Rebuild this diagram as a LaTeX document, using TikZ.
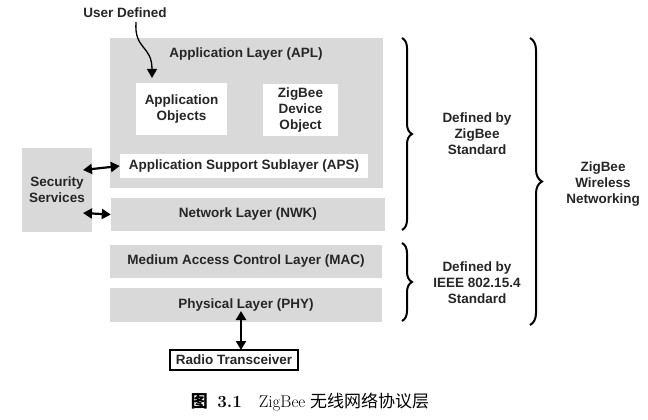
\documentclass[tikz,border=0pt]{standalone}
\usepackage{fontspec}
\setmainfont{Liberation Sans}
\newfontfamily\capserif{Latin Modern Roman}
\newfontfamily\cjk{Noto Sans CJK SC}
\usetikzlibrary{decorations.pathreplacing,arrows.meta}
\begin{document}
\begin{tikzpicture}[x=1pt,y=-1pt,
  lay/.style={fill=gray!30,draw=none},
  wb/.style={fill=white,draw=none},
  t/.style={font=\fontsize{13.5}{16}\selectfont\bfseries,align=center,text=black!85},
  arr/.style={-{Triangle[length=9pt,width=10pt]},line width=2pt},
  darr/.style={{Triangle[length=9pt,width=10pt]}-{Triangle[length=9pt,width=10pt]},line width=2.2pt},
  br/.style={decorate,decoration={brace,amplitude=10pt},line width=2pt}]
\useasboundingbox (0,0) rectangle (648,420);
\fill[lay] (110,38) rectangle (383,188);
\node[t] (apl) at (246,54) {Application Layer (APL)};
\fill[wb] (136,83) rectangle (227,135);
\node[t] (ao) at (181.5,109) {Application\\Objects};
\fill[wb] (263,84) rectangle (338,136);
\node[t] (zdo) at (300.5,110) {ZigBee\\Device\\Object};
\node[wb,t,minimum width=248pt,minimum height=24pt,inner sep=0pt] (aps) at (244,166) {Application Support Sublayer (APS)};
\node[lay,t,minimum width=70pt,minimum height=84pt,inner sep=0pt] (sec) at (57,190) {Security\\Services};
\node[lay,t,minimum width=274pt,minimum height=33pt,inner sep=0pt] (nwk) at (248,214.5) {Network Layer (NWK)};
\node[lay,t,minimum width=272pt,minimum height=33pt,inner sep=0pt] (mac) at (246,261.5) {Medium Access Control Layer (MAC)};
\node[lay,t,minimum width=272pt,minimum height=34pt,inner sep=0pt] (phy) at (246,305) {Physical Layer (PHY)};
\node[t,draw=black,line width=1.8pt,inner sep=2pt,minimum width=128pt,minimum height=20pt] (rt) at (234,360) {Radio Transceiver};
\node[t] (ud) at (125,13) {User Defined};
\coordinate (ph) at (241,311);
\coordinate (rtt) at (241,350);
\draw[darr] (ph) -- (rtt);
\draw[darr] (83,170) -- (aps.west);
\draw[darr] (83,213) -- (nwk.west);
\draw[arr,line width=1.3pt] (136,22) .. controls (134,50) and (152,45) .. (152,78);
\draw[br] (402,38) -- (402,230);
\node[t] (d1) at (477,134) {Defined by\\ZigBee\\Standard};
\draw[br] (402,243) -- (402,321);
\node[t] (d2) at (477,283) {Defined by\\IEEE 802.15.4\\Standard};
\draw[br,decoration={brace,amplitude=12pt}] (530,38) -- (530,325);
\node[t] (zw) at (603,184) {ZigBee\\Wireless\\Networking};
\node[font=\fontsize{17}{20}\selectfont] (cap) at (310,402) {{\cjk\bfseries 图}\ \ {\capserif\bfseries 3.1}\quad{\capserif ZigBee} {\cjk 无线网络协议层}};
\end{tikzpicture}
\end{document}
